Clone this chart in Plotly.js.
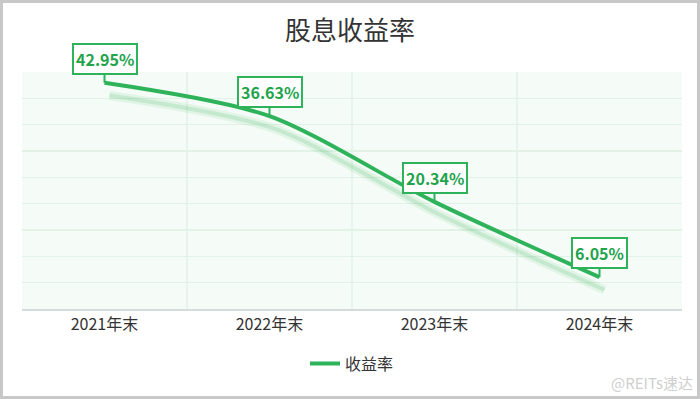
<!DOCTYPE html>
<html>
<head>
<meta charset="utf-8">
<script src="https://cdn.plot.ly/plotly-3.0.1.min.js"></script>
<style>
  html, body { margin: 0; padding: 0; background: #ffffff; }
  #wrap { width: 700px; height: 399px; box-sizing: border-box; border: 3px solid #c8c8c8; background: #fff; }
  #chart { width: 694px; height: 393px; }
</style>
</head>
<body>
<div id="wrap"><div id="chart"></div></div>
<script>
const categories = ["2021年末", "2022年末", "2023年末", "2024年末"];
const yieldValues = [42.95, 36.63, 20.34, 6.05];
const labelTexts = ["42.95%", "36.63%", "20.34%", "6.05%"];
const seriesName = "收益率";
const chartTitle = "股息收益率";
const watermark = "@REITs速达";

const green = "#2fb35a";
const font = "Noto Sans CJK SC, Noto Sans, sans-serif";

const line = {
  x: categories, y: yieldValues, name: seriesName, type: "scatter", mode: "lines",
  line: { color: green, width: 4, shape: "spline", smoothing: 0.8 },
  hoverinfo: "none"
};
const shadow = {
  x: categories, y: yieldValues, type: "scatter", mode: "lines", showlegend: false,
  xaxis: "x2", yaxis: "y2",
  line: { color: "rgba(47,179,90,0.10)", width: 9, shape: "spline", smoothing: 0.8 },
  hoverinfo: "none"
};
const shadowCore = Object.assign({}, shadow, {
  line: { color: "rgba(47,179,90,0.16)", width: 4, shape: "spline", smoothing: 0.8 }
});

const annotations = categories.map((c, i) => ({
  x: c, y: yieldValues[i], xref: "x", yref: "y",
  text: labelTexts[i], showarrow: true, arrowhead: 0, arrowwidth: 2,
  arrowcolor: green, ax: 0, ay: -24,
  font: { family: font, size: 16, color: "#22a34c", weight: 600 },
  bgcolor: "#ffffff", bordercolor: green, borderwidth: 2, borderpad: 2
}));
annotations.push({
  xref: "paper", yref: "paper", x: 1.02, y: -0.31, xanchor: "right", yanchor: "middle",
  text: watermark, showarrow: false,
  font: { family: font, size: 15, color: "#cfcfcf" }
});

const layout = {
  width: 694, height: 393,
  margin: { l: 19, r: 15, t: 69, b: 87 },
  paper_bgcolor: "#ffffff",
  plot_bgcolor: "#f5fcf7",
  title: { text: chartTitle, x: 0.5, xanchor: "center", y: 0.928, yanchor: "middle",
           font: { family: font, size: 26, color: "#333333" } },
  xaxis: {
    type: "category", range: [-0.5, 3.5], showgrid: false,
    showline: true, linecolor: "#d5dcdc", linewidth: 2,
    tickfont: { family: font, size: 16, color: "#333333" }, ticks: "",
    fixedrange: true
  },
  xaxis2: { type: "category", overlaying: "x", range: [-0.53, 3.47], visible: false },
  yaxis: {
    range: [0, 45], dtick: 5, showticklabels: false, gridcolor: "#e2f2e7", gridwidth: 1.5,
    zeroline: false, fixedrange: true
  },
  yaxis2: { overlaying: "y", range: [2.4, 47.4], visible: false },
  shapes: [1, 2, 3].map(k => ({
    type: "line", xref: "x", yref: "paper", x0: k - 0.5, x1: k - 0.5, y0: 0, y1: 1,
    line: { color: "#e2f2e7", width: 1.5 }, layer: "below"
  })),
  showlegend: true,
  legend: { orientation: "h", x: 0.5, xanchor: "center", y: -0.23, yanchor: "middle",
            font: { family: font, size: 16, color: "#333333" } },
  annotations: annotations
};

Plotly.newPlot("chart", [shadow, shadowCore, line], layout, { displayModeBar: false, staticPlot: true });
</script>
</body>
</html>
